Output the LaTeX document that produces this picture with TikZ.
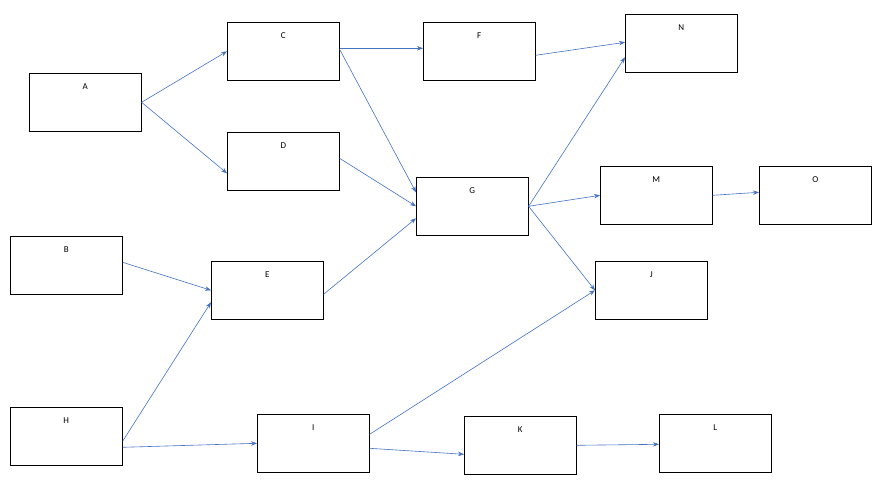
\documentclass[tikz,border=0pt]{standalone}
\usepackage{fontspec}
\setmainfont{Carlito}
\usetikzlibrary{arrows.meta,calc}
\definecolor{arrblue}{RGB}{68,114,196}
\begin{document}
\begin{tikzpicture}[x=1pt,y=-1pt,
 box/.style={draw=black,line width=0.6pt,minimum width=112pt,minimum height=58pt,inner sep=0pt},
 lab/.style={font=\fontsize{9}{10}\selectfont},
 arr/.style={draw=arrblue,line width=0.6pt,-{Stealth[length=6pt,width=4.5pt,fill=arrblue]}}]
\useasboundingbox (0,0) rectangle (890,489);
\fill[white] (0,0) rectangle (890,489);
\foreach \n/\x/\y in {A/29/73,C/227/22,D/227/132,F/423/22,N/625/14,G/416/177,M/600/166,O/759/166,B/10/236,E/211/261,J/595/261,H/10/407,I/257/414,K/464/416,L/659/414}{
 \node[box,anchor=north west] (\n) at (\x,\y) {};
 \node[lab] (t\n) at ($(\n.north)+(0,14)$) {\n};
}
\draw[arr] (A.east) -- (C.west);
\draw[arr] (A.east) -- ([yshift=-12]D.west);
\draw[arr] ([yshift=3]C.east) -- ([yshift=3]F.west);
\draw[arr] ([yshift=2]C.east) -- ([yshift=14]G.west);
\draw[arr] ([yshift=3]D.east) -- (G.west);
\draw[arr] ([yshift=-4]F.east) -- ([yshift=1]N.west);
\draw[arr] (G.east) -- ([yshift=-14]N.west);
\draw[arr] (G.east) -- (M.west);
\draw[arr] (G.east) -- (J.west);
\draw[arr] (M.east) -- ([yshift=3]O.west);
\draw[arr] ([yshift=3]B.east) -- (E.west);
\draw[arr] ([yshift=-4]E.east) -- ([yshift=-12]G.west);
\draw[arr] ([yshift=-5]H.east) -- ([yshift=-12]E.west);
\draw[arr] ([yshift=-11]H.east) -- (I.west);
\draw[arr] ([yshift=9]I.east) -- (J.west);
\draw[arr] ([yshift=-5]I.east) -- ([yshift=-9]K.west);
\draw[arr] (K.east) -- ([yshift=-1]L.west);
\end{tikzpicture}
\end{document}
